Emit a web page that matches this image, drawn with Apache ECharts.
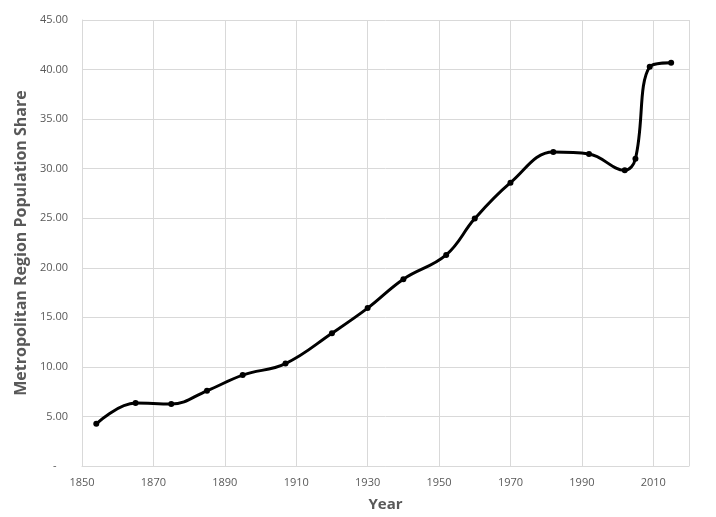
<!DOCTYPE html>
<html>
<head>
<meta charset="utf-8">
<script src="https://cdn.jsdelivr.net/npm/echarts@6/dist/echarts.min.js"></script>
<style>html,body{margin:0;padding:0;background:#fff}#c{width:716px;height:517px}</style>
</head>
<body>
<div id="c"></div>
<script>
var years = [1854, 1865, 1875, 1885, 1895, 1907, 1920, 1930, 1940, 1952, 1960, 1970, 1982, 1992, 2002, 2005, 2009, 2015];
var shares = [4.26, 6.35, 6.25, 7.59, 9.17, 10.34, 13.40, 15.93, 18.85, 21.30, 24.96, 28.59, 31.68, 31.48, 29.84, 31.00, 40.28, 40.69];
var xTitle = 'Year';
var yTitle = 'Metropolitan Region Population Share';

var chart = echarts.init(document.getElementById('c'));
var txt = '#595959';
var grid = '#d9d9d9';
chart.setOption({
  animation: false,
  grid: {left: 82, right: 27, top: 20, bottom: 51},
  xAxis: {
    type: 'value', min: 1850, max: 2020, interval: 20,
    name: xTitle, nameLocation: 'middle', nameGap: 31,
    nameTextStyle: {color: txt, fontSize: 15, fontWeight: 'bold', fontFamily: 'Open Sans'},
    axisLine: {show: true, lineStyle: {color: grid, width: 1}},
    axisTick: {show: false},
    axisLabel: {color: txt, fontSize: 11, fontFamily: 'Open Sans', margin: 11,
      formatter: function (v) { return v > 2010 ? '' : String(v); }},
    splitLine: {show: true, lineStyle: {color: grid, width: 1}}
  },
  yAxis: {
    type: 'value', min: 0, max: 45, interval: 5,
    name: yTitle, nameLocation: 'middle', nameGap: 51,
    nameTextStyle: {color: txt, fontSize: 16, fontWeight: 'bold', fontFamily: 'Open Sans'},
    axisLine: {show: true, lineStyle: {color: grid, width: 1}},
    axisTick: {show: false},
    axisLabel: {color: txt, fontSize: 11, fontFamily: 'Open Sans', margin: 14,
      formatter: function (v) { return v === 0 ? '-    ' : v.toFixed(2); }},
    splitLine: {show: true, lineStyle: {color: grid, width: 1}}
  },
  series: [{
    type: 'line',
    data: years.map(function (y, i) { return [y, shares[i]]; }),
    smooth: 0.4,
    symbol: 'circle', symbolSize: 6,
    lineStyle: {color: '#000', width: 3},
    itemStyle: {color: '#000'}
  }]
});
</script>
</body>
</html>
